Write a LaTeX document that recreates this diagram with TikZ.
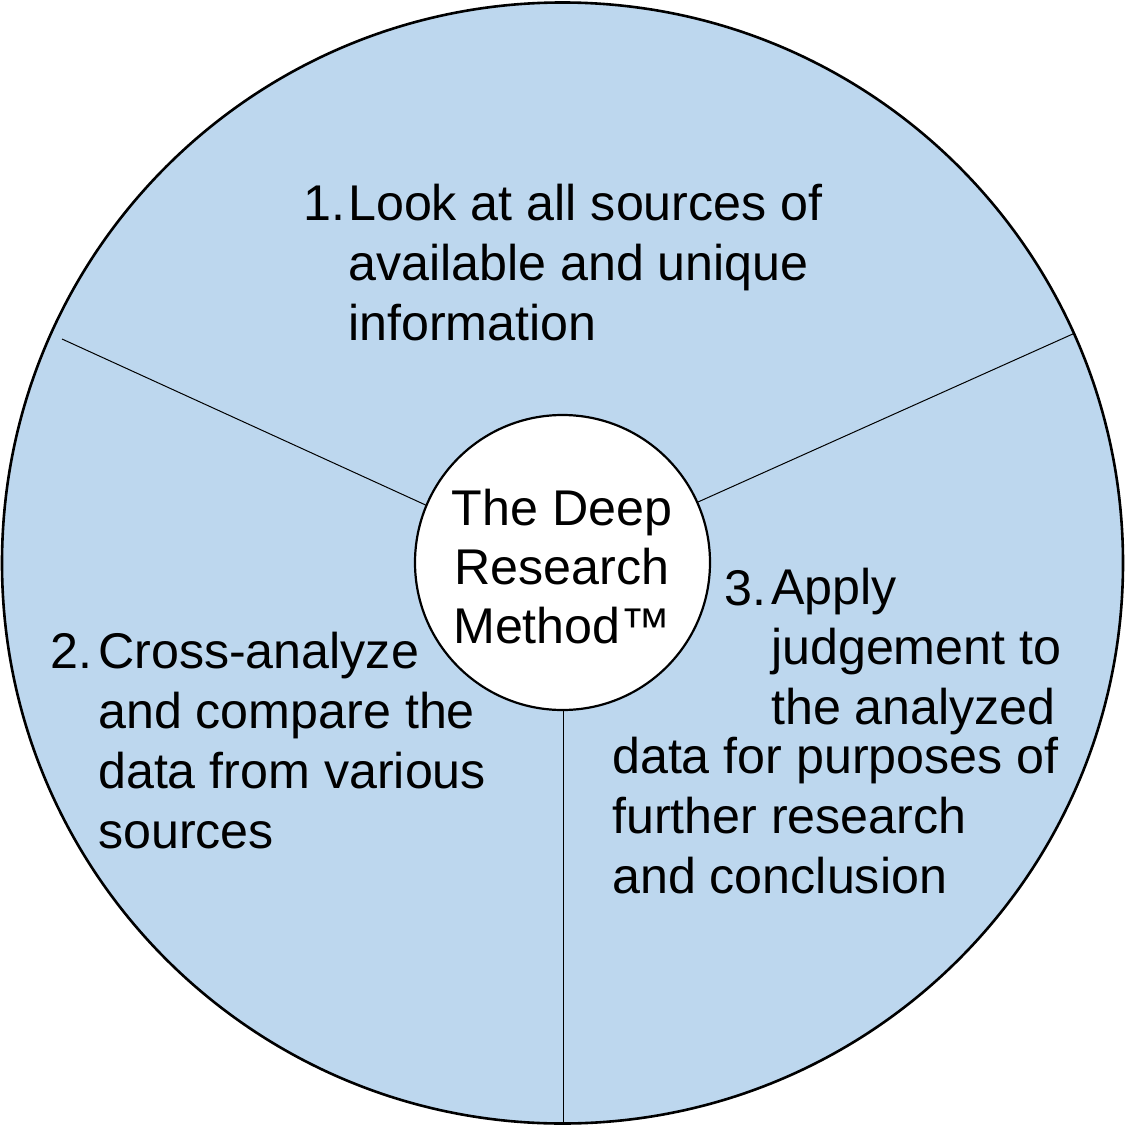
\documentclass[tikz,border=0pt]{standalone}
\usepackage{fontspec}
\setmainfont{Liberation Sans}
\definecolor{wheelblue}{RGB}{189,215,238}
\begin{document}
\begin{tikzpicture}[x=1pt,y=-1pt,
  txt/.style={inner sep=0pt,anchor=base west,align=left,font=\fontsize{50.2}{60}\selectfont},
  ctxt/.style={inner sep=0pt,anchor=base,align=center,font=\fontsize{50.2}{59}\selectfont},
  spoke/.style={line width=1pt,black}]
\useasboundingbox (0,0) rectangle (1125,1127);
\node[circle,draw=black,line width=2.6pt,fill=wheelblue,minimum size=1121pt,inner sep=0pt] (outer) at (562.5,563) {};
\coordinate (l1) at (62,339);
\coordinate (l2) at (430,507);
\coordinate (r1) at (1075,333);
\coordinate (r2) at (698,502);
\coordinate (b1) at (563,710);
\coordinate (b2) at (563,1124);
\draw[spoke] (l1) -- (l2);
\draw[spoke] (r1) -- (r2);
\draw[spoke] (b1) -- (b2);
\node[circle,draw=black,line width=2.2pt,fill=white,minimum size=295pt,inner sep=0pt] (inner) at (562.5,562.5) {};
\node[ctxt] (center) at (562,643) {The Deep\\Research\\Method™};
\node[txt] (n1) at (303,220) {1.};
\node[txt] (t1) at (348,340) {Look at all sources of\\available and unique\\information};
\node[txt] (n2) at (50,668) {2.};
\node[txt] (t2) at (98,848) {Cross-analyze\\and compare the\\data from various\\sources};
\node[txt] (n3) at (724,605) {3.};
\node[txt] (t3) at (771,724) {Apply\\judgement to\\the analyzed};
\node[txt] (t3b) at (612,893) {data for purposes of\\further research\\and conclusion};
\end{tikzpicture}
\end{document}
